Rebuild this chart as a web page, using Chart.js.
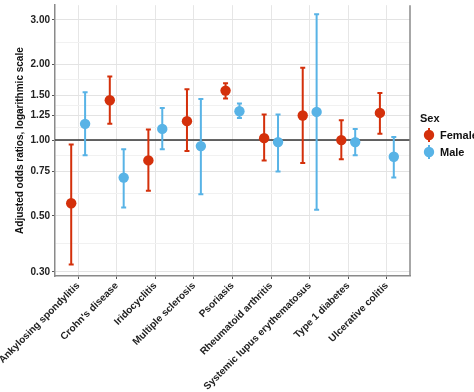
<!DOCTYPE html>
<html>
<head>
<meta charset="utf-8">
<script src="https://cdn.jsdelivr.net/npm/chart.js@4"></script>
<style>
  html, body { margin: 0; padding: 0; background: #fff; }
  #wrap { width: 474px; height: 392px; }
</style>
</head>
<body>
<div id="wrap"><canvas id="chart" width="474" height="392"></canvas></div>
<script>
/* Data */
const categories = ["Ankylosing spondylitis", "Crohn's disease", "Iridocyclitis", "Multiple sclerosis",
    "Psoriasis", "Rheumatoid arthritis", "Systemic lupus erythematosus", "Type 1 diabetes", "Ulcerative colitis"];

const femaleOR   = [0.562, 1.439, 0.831, 1.189, 1.572, 1.018, 1.252, 1.000, 1.282];
const femaleLow  = [0.321, 1.160, 0.629, 0.905, 1.461, 0.831, 0.811, 0.839, 1.059];
const femaleHigh = [0.960, 1.790, 1.102, 1.591, 1.680, 1.263, 1.937, 1.200, 1.538];

const maleOR   = [1.160, 0.710, 1.108, 0.947, 1.302, 0.982, 1.294, 0.982, 0.859];
const maleLow  = [0.870, 0.540, 0.919, 0.610, 1.225, 0.750, 0.529, 0.870, 0.710];
const maleHigh = [1.549, 0.919, 1.342, 1.456, 1.396, 1.263, 3.160, 1.108, 1.028];

const yTicks = [0.3, 0.5, 0.75, 1, 1.25, 1.5, 2, 3];

/* Style */
const RED = "#D4300B";
const BLUE = "#58B3E6";
const DODGE = 0.18;
const FONT = "'Liberation Sans', Arial, sans-serif";

// minor grid lines sit half way (in log space) between the labelled ones
const minorTicks = yTicks.slice(1).map((v, i) => Math.sqrt(v * yTicks[i]));
const isMajor = v => yTicks.some(t => Math.abs(t - v) < 1e-9);

const toPoints = (vals, shift) => vals.map((v, i) => ({ x: i + shift, y: v }));

const series = [
    { label: "Female", color: RED, values: femaleOR, low: femaleLow, high: femaleHigh, shift: -DODGE },
    { label: "Male", color: BLUE, values: maleOR, low: maleLow, high: maleHigh, shift: DODGE }
];

/* Error bars + reference line + legend */
const errorBars = {
    id: "errorBars",
    beforeDatasetsDraw(chart) {
        const { ctx, scales: { x, y }, chartArea } = chart;
        ctx.save();
        // reference line at 1
        const y1 = y.getPixelForValue(1);
        ctx.strokeStyle = "#333";
        ctx.lineWidth = 1.5;
        ctx.beginPath();
        ctx.moveTo(chartArea.left, y1);
        ctx.lineTo(chartArea.right, y1);
        ctx.stroke();

        series.forEach(s => {
            ctx.strokeStyle = s.color;
            ctx.lineWidth = 2;
            s.values.forEach((_, i) => {
                const px = x.getPixelForValue(i + s.shift);
                const top = y.getPixelForValue(s.high[i]);
                const bot = y.getPixelForValue(s.low[i]);
                ctx.beginPath();
                ctx.moveTo(px, top); ctx.lineTo(px, bot);
                ctx.moveTo(px - 2.5, top); ctx.lineTo(px + 2.5, top);
                ctx.moveTo(px - 2.5, bot); ctx.lineTo(px + 2.5, bot);
                ctx.stroke();
            });
        });
        ctx.restore();
    },
    afterDraw(chart) {
        const { ctx, chartArea } = chart;
        ctx.save();
        // right panel border
        ctx.strokeStyle = "#8a8a8a";
        ctx.lineWidth = 1.5;
        ctx.beginPath();
        ctx.moveTo(chartArea.right, chartArea.top);
        ctx.lineTo(chartArea.right, chartArea.bottom);
        ctx.stroke();

        // legend
        const lx = chartArea.right + 10;
        ctx.fillStyle = "#111";
        ctx.font = "bold 11px " + FONT;
        ctx.textBaseline = "middle";
        ctx.textAlign = "left";
        ctx.fillText("Sex", lx, 119);
        series.forEach((s, i) => {
            const cy = 135 + i * 17;
            const cx = lx + 9;
            ctx.strokeStyle = s.color;
            ctx.fillStyle = s.color;
            ctx.lineWidth = 2;
            ctx.beginPath();
            ctx.moveTo(cx, cy - 7); ctx.lineTo(cx, cy + 7);
            ctx.stroke();
            ctx.beginPath();
            ctx.arc(cx, cy, 5.2, 0, Math.PI * 2);
            ctx.fill();
            ctx.fillStyle = "#111";
            ctx.fillText(s.label, lx + 20, cy + 1);
        });
        ctx.restore();
    }
};

new Chart(document.getElementById("chart"), {
    type: "scatter",
    data: {
        datasets: series.map(s => ({
            label: s.label,
            data: toPoints(s.values, s.shift),
            backgroundColor: s.color,
            borderWidth: 0,
            pointRadius: 5.2,
            pointHoverRadius: 5.2
        }))
    },
    options: {
        responsive: false,
        animation: false,
        layout: { padding: { top: 0, left: 0, bottom: 0, right: 64 } },
        plugins: { legend: { display: false }, tooltip: { enabled: false } },
        scales: {
            x: {
                type: "linear",
                min: -0.6,
                max: categories.length - 0.4,
                afterBuildTicks: sc => { sc.ticks = categories.map((_, i) => ({ value: i })); },
                afterFit: sc => { sc.height = 116; sc.paddingLeft = 0; sc.paddingRight = 0; },
                ticks: {
                    autoSkip: false,
                    minRotation: 45,
                    maxRotation: 45,
                    padding: 1,
                    color: "#222",
                    font: { family: FONT, size: 10, weight: "bold" },
                    callback: v => categories[v]
                },
                grid: { color: "#e6e6e6", lineWidth: 1, tickColor: "#555", tickLength: 3 },
                border: { display: true, color: "#8a8a8a", width: 1.5 }
            },
            y: {
                type: "logarithmic",
                min: 0.289,
                max: 3.43,
                afterBuildTicks: sc => {
                    sc.ticks = yTicks.concat(minorTicks).sort((a, b) => a - b).map(v => ({ value: v }));
                },
                afterFit: sc => { sc.width = 55; sc.paddingTop = 0; sc.paddingBottom = 0; },
                ticks: {
                    autoSkip: false,
                    padding: 2,
                    color: "#222",
                    font: { family: FONT, size: 10, weight: "bold" },
                    callback: v => isMajor(v) ? v.toFixed(2) : ""
                },
                grid: {
                    color: c => isMajor(c.tick.value) ? "#e3e3e3" : "#f1f1f1",
                    tickColor: c => isMajor(c.tick.value) ? "#555" : "rgba(0,0,0,0)",
                    tickLength: 3,
                    lineWidth: 1
                },
                border: { display: true, color: "#8a8a8a", width: 1.5 },
                title: {
                    display: true,
                    text: "Adjusted odds ratios, logarithmic scale",
                    color: "#111",
                    font: { family: FONT, size: 10, weight: "bold" },
                    padding: { top: 14, bottom: 0 }
                }
            }
        }
    },
    plugins: [errorBars]
});
</script>
</body>
</html>
